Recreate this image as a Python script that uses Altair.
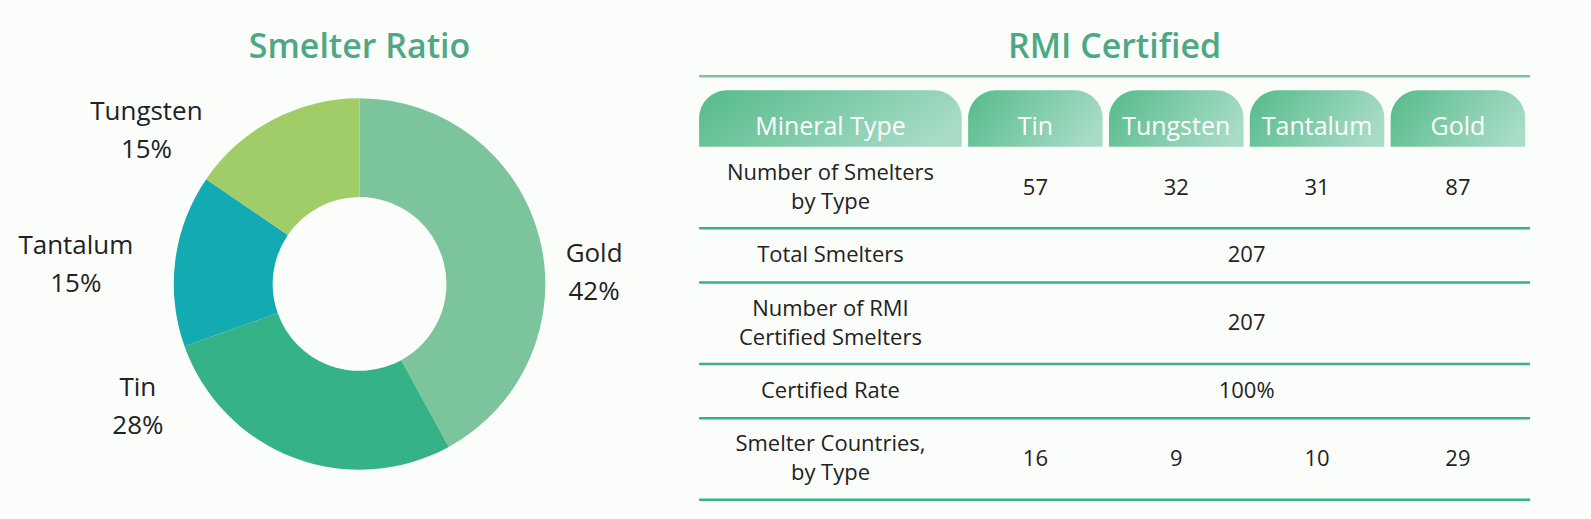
import altair as alt
import pandas as pd

# ---------------- data ----------------
minerals = ["Gold", "Tin", "Tantalum", "Tungsten"]
mineral_counts = [87, 57, 31, 32]
mineral_pct = ["42%", "28%", "15%", "15%"]

table_columns = ["Tin", "Tungsten", "Tantalum", "Gold"]
header_label = "Mineral Type"
row_labels = [
    "Number of Smelters\nby Type",
    "Total Smelters",
    "Number of RMI\nCertified Smelters",
    "Certified Rate",
    "Smelter Countries,\nby Type",
]
smelters_by_type = ["57", "32", "31", "87"]
total_smelters = ["207"]
rmi_certified = ["207"]
certified_rate = ["100%"]
countries_by_type = ["16", "9", "10", "29"]
row_values = [smelters_by_type, total_smelters, rmi_certified, certified_rate, countries_by_type]

# ---------------- styles / layout ----------------
FONT = "Open Sans"
TITLE_COLOR = "#4ea883"
TEXT_COLOR = "#222222"
mineral_colors = ["#7cc49b", "#35b386", "#14aab2", "#a0cd67"]
LABEL_LH = 38
label_nudge = {  # (dx, dy) nudges from the radial label position
    "Gold": (12, 46),
    "Tin": (-140, -92),
    "Tantalum": (-56, 11),
    "Tungsten": (-106, 50),
}

# table layout in abstract units
label_col_w = 1.91
pill_gap = 0.045
table_w_units = 5.9
header_top, header_bottom = 0.52, 2.6
row_heights = [3, 2, 3, 2, 3]
unit_x = 832 / table_w_units
unit_y = 27.18
CELL_LH = 29
right_w, right_h = 812, 440
x_lo = 20 / unit_x
y_lo = -7 / unit_y
y_hi = y_lo + right_h / unit_y

# ---------------- donut ----------------
total = sum(mineral_counts)
donut_df = pd.DataFrame({
    "mineral": minerals,
    "count": mineral_counts,
    "pct": mineral_pct,
    "order": list(range(len(minerals))),
})
donut_df["label"] = donut_df["mineral"] + "\n" + donut_df["pct"]
theta_scale = alt.Scale(domain=[0, total])

arcs = alt.Chart(donut_df).mark_arc(innerRadius=87, outerRadius=186).encode(
    theta=alt.Theta("count:Q", stack=True, scale=theta_scale),
    order=alt.Order("order:Q"),
    color=alt.Color("mineral:N", scale=alt.Scale(domain=minerals, range=mineral_colors), legend=None),
)
label_base = alt.Chart(donut_df).transform_stack(
    stack="count", groupby=[], as_=["t0", "t1"], sort=[alt.SortField("order", "ascending")]
).transform_calculate(mid="(datum.t0 + datum.t1) / 2")

label_layers = []
for m in minerals:
    dx, dy = label_nudge[m]
    label_layers.append(
        label_base.transform_filter(alt.datum.mineral == m).mark_text(
            radius=230, dx=dx, dy=dy - LABEL_LH / 2, font=FONT, fontSize=26, lineBreak="\n",
            lineHeight=LABEL_LH, color=TEXT_COLOR, align="center", baseline="middle"
        ).encode(theta=alt.Theta("mid:Q", scale=theta_scale), text="label:N")
    )

left = alt.layer(arcs, *label_layers).properties(
    width=720, height=430,
    title=alt.TitleParams("Smelter Ratio", font=FONT, fontSize=34, fontWeight=600,
                          color=TITLE_COLOR, anchor="middle", offset=4, frame="group"),
)

# ---------------- table ----------------
col_starts = [0.0] + [label_col_w + i for i in range(len(table_columns))]
col_ends = [label_col_w] + [label_col_w + i + 1 for i in range(len(table_columns))]
header_names = [header_label] + table_columns

pill_df = pd.DataFrame({
    "name": header_names,
    "x0": col_starts,
    "x1": [e - pill_gap for e in col_ends],
    "y0": header_top,
    "y1": header_bottom,
})
pill_df["xc"] = (pill_df["x0"] + pill_df["x1"]) / 2
pill_df["yc"] = (pill_df["y0"] + pill_df["y1"]) / 2

bounds = [header_bottom]
for h in row_heights:
    bounds.append(bounds[-1] + h)
line_df = pd.DataFrame({
    "y": [0.0] + bounds[1:],
    "kind": ["top"] + ["row"] * len(row_heights),
    "x0": 0.0,
    "x1": table_w_units,
})


def first_line_y(text, yc):
    n = text.count("\n") + 1
    return yc - (n - 1) / 2 * CELL_LH / unit_y


cells = []
for r, (lab, vals) in enumerate(zip(row_labels, row_values)):
    yc = (bounds[r] + bounds[r + 1]) / 2
    cells.append({"text": lab, "xc": (col_starts[0] + col_ends[0] - pill_gap) / 2, "yc": first_line_y(lab, yc)})
    if len(vals) == len(table_columns):
        for i, v in enumerate(vals):
            cells.append({"text": v, "xc": (col_starts[i + 1] + col_ends[i + 1] - pill_gap) / 2, "yc": yc})
    else:
        cells.append({"text": vals[0], "xc": (col_starts[1] + col_ends[-1] - pill_gap) / 2, "yc": yc})
cell_df = pd.DataFrame(cells)

xs = alt.Scale(domain=[x_lo, table_w_units], nice=False, zero=False)
ys = alt.Scale(domain=[y_lo, y_hi], nice=False, zero=False, reverse=True)

pill_grad = alt.Gradient(
    gradient="linear",
    stops=[alt.GradientStop(color="#5bbd8f", offset=0), alt.GradientStop(color="#a8dcc6", offset=1)],
    x1=0, x2=1, y1=0.3, y2=0.6,
)
pills = alt.Chart(pill_df).mark_rect(
    color=pill_grad, cornerRadiusTopLeft=28, cornerRadiusTopRight=28
).encode(
    x=alt.X("x0:Q", scale=xs, axis=None), x2="x1:Q",
    y=alt.Y("y0:Q", scale=ys, axis=None), y2="y1:Q",
)
pill_text = alt.Chart(pill_df).mark_text(
    font=FONT, fontSize=25, color="white", baseline="middle", dy=8
).encode(
    x=alt.X("xc:Q", scale=xs, axis=None),
    y=alt.Y("yc:Q", scale=ys, axis=None),
    text="name:N",
)
lines = alt.Chart(line_df).mark_rule(strokeWidth=2.5).encode(
    x=alt.X("x0:Q", scale=xs, axis=None), x2="x1:Q",
    y=alt.Y("y:Q", scale=ys, axis=None),
    color=alt.Color("kind:N", scale=alt.Scale(domain=["top", "row"], range=["#7ab6aa", "#5aab88"]), legend=None),
)
cell_text = alt.Chart(cell_df).mark_text(
    font=FONT, fontSize=22, color=TEXT_COLOR, baseline="middle", lineBreak="\n", lineHeight=CELL_LH
).encode(
    x=alt.X("xc:Q", scale=xs, axis=None),
    y=alt.Y("yc:Q", scale=ys, axis=None),
    text="text:N",
)

right = alt.layer(lines, pills, pill_text, cell_text).properties(
    width=right_w, height=right_h,
    title=alt.TitleParams("RMI Certified", font=FONT, fontSize=34, fontWeight=600,
                          color=TITLE_COLOR, anchor="middle", offset=4, dx=-10, frame="group"),
)

chart = alt.hconcat(left, right, spacing=0, bounds="flush").properties(
    padding={"left": 0, "top": 31, "right": 59, "bottom": 9},
    background="#fbfdfb",
).configure_view(strokeWidth=0)

chart.save("out.html", embed_options={"renderer": "svg", "actions": False})
